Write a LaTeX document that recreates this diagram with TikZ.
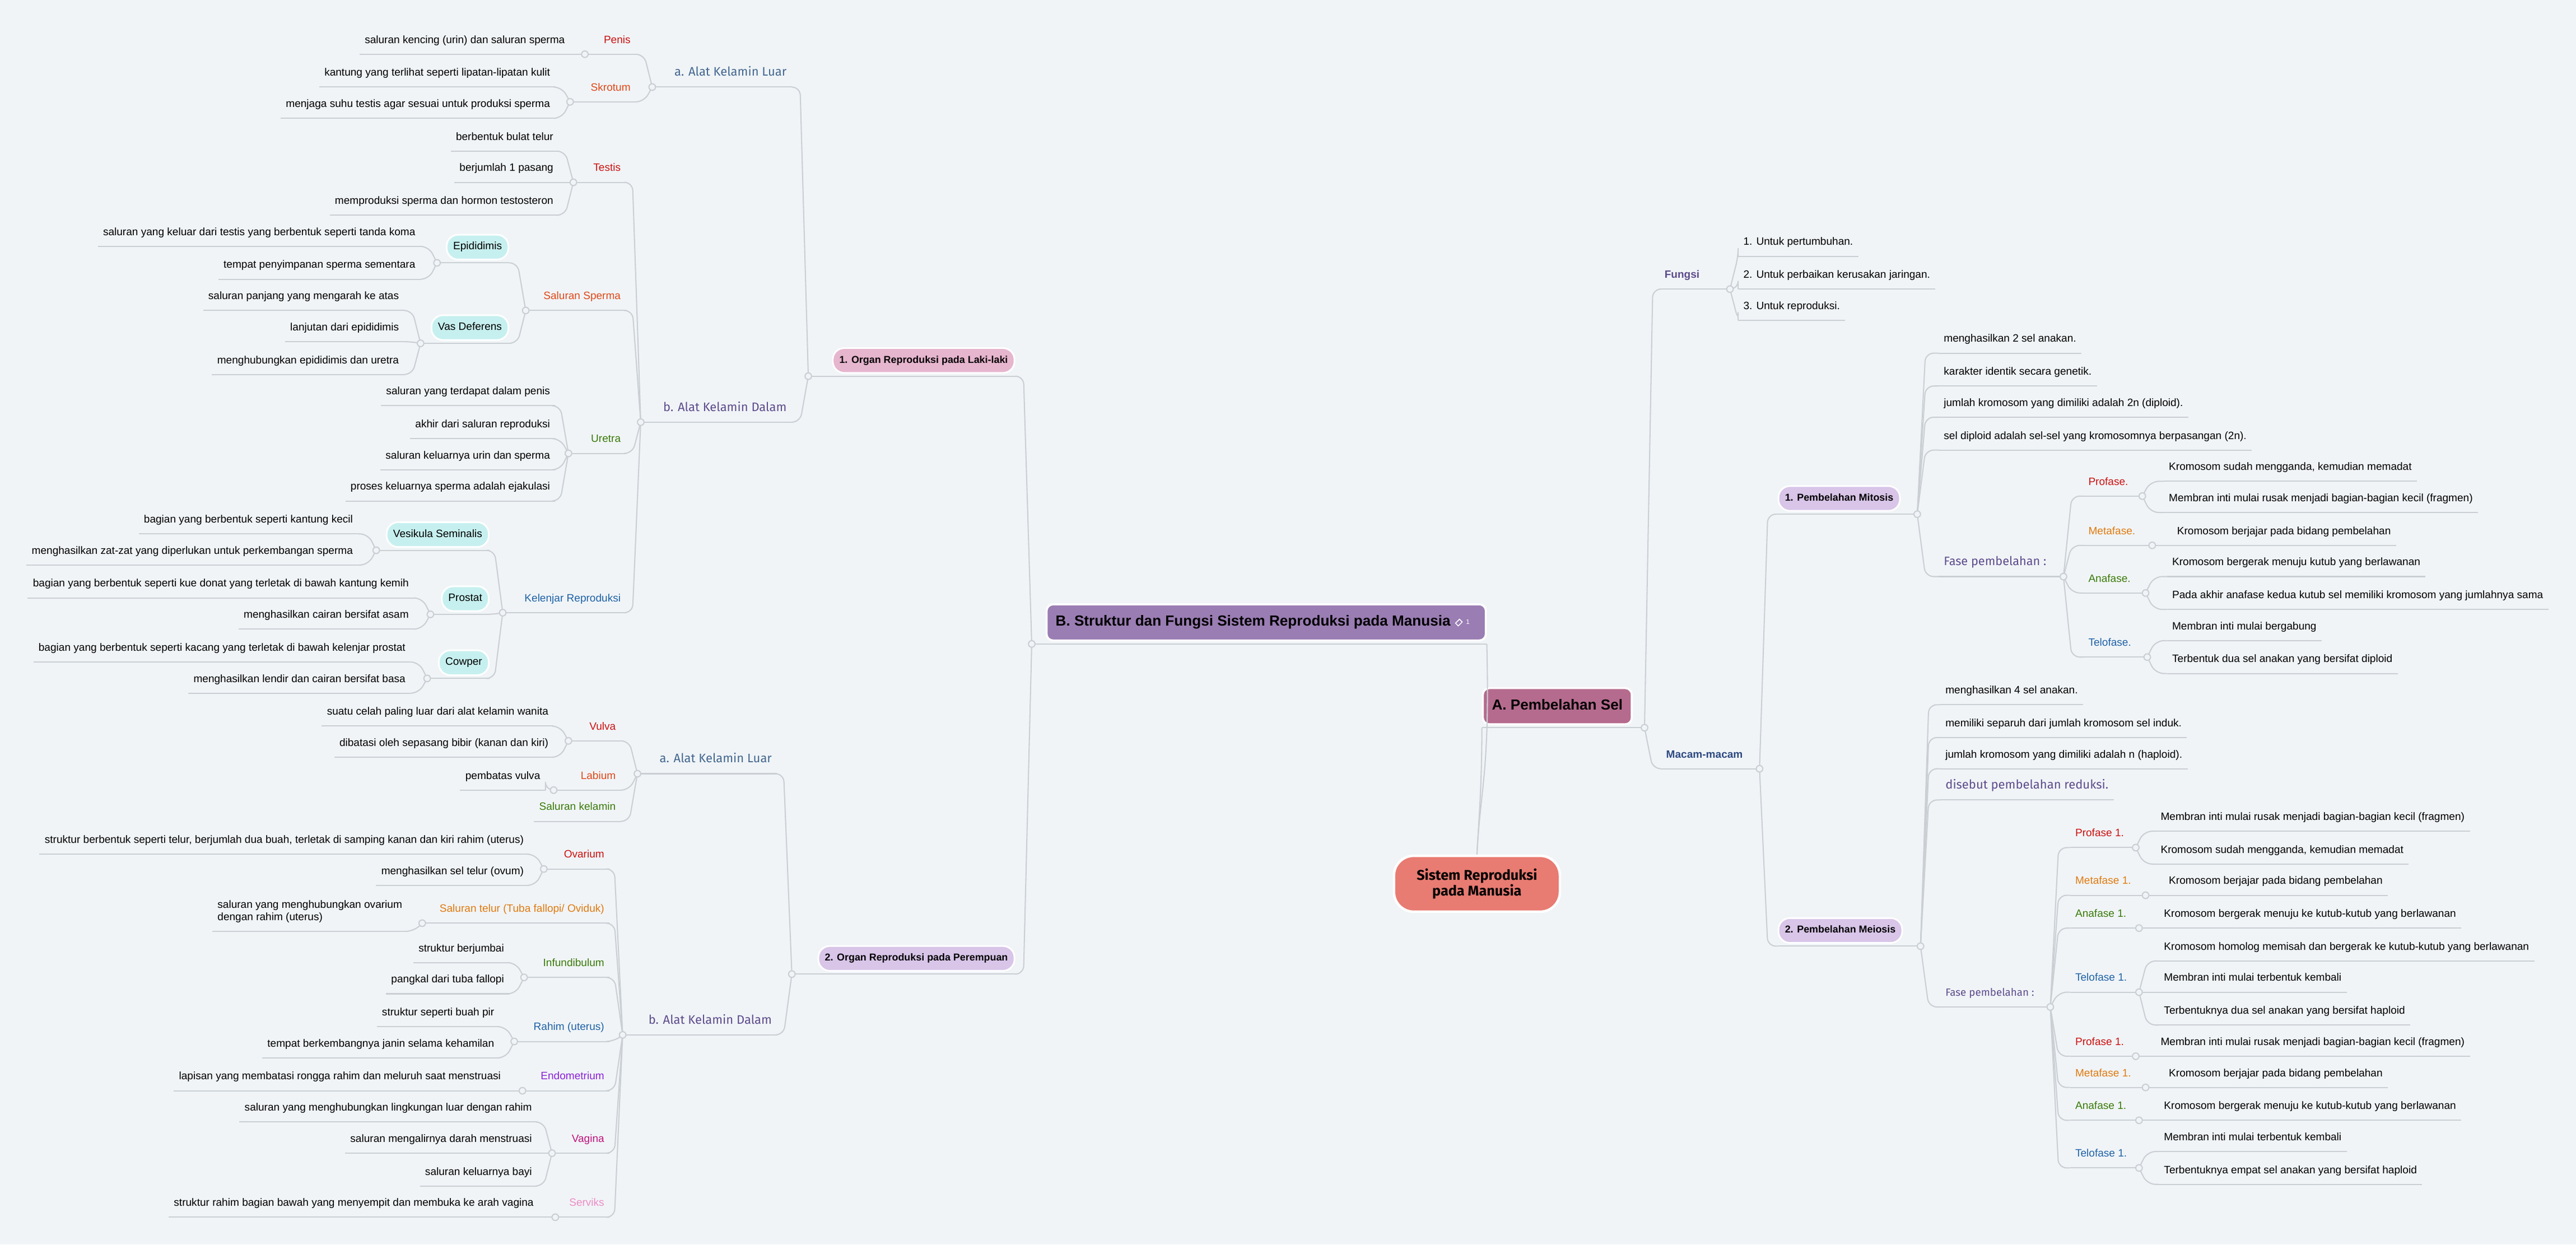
\documentclass[tikz,border=0pt]{standalone}
\usepackage{fontspec}
\setmainfont{Liberation Sans}
\newfontfamily\fira{Fira Sans}
\usetikzlibrary{calc}
\definecolor{bg}{HTML}{F0F4F7}
\definecolor{lnc}{HTML}{CACFD4}
\definecolor{cred}{HTML}{CC1111}
\definecolor{corg}{HTML}{E0481A}
\definecolor{cor2}{HTML}{E07A10}
\definecolor{cgrn}{HTML}{3A7A0A}
\definecolor{cblu}{HTML}{2062A6}
\definecolor{cpur}{HTML}{8A22D8}
\definecolor{cmag}{HTML}{C0137A}
\definecolor{cpnk}{HTML}{EE8CC4}
\definecolor{chead}{HTML}{44678F}
\definecolor{chp}{HTML}{5E4C8C}
\definecolor{cmac}{HTML}{2E4A82}
\definecolor{fB}{HTML}{9A7DB3}
\definecolor{fA}{HTML}{B56B8E}
\definecolor{fR}{HTML}{E87B72}
\definecolor{fpink}{HTML}{E6B5CE}
\definecolor{flav}{HTML}{D8C5E8}
\definecolor{fteal}{HTML}{C6F0EF}
\tikzset{
 ln/.style={draw=lnc,line width=0.7pt},
 base/.style={inner xsep=3pt,inner ysep=5pt,text height=4.6pt,text depth=1.5pt,font=\fontsize{6.5}{7.5}\selectfont},
 leaf/.style={base,text=black},
 cat/.style={base,text=#1},
 head/.style={base,font=\fira\fontsize{7.5}{8}\selectfont,text=#1},
 bub/.style={base,fill=#1,draw=white,line width=1pt,rounded corners=7pt,inner xsep=4pt,inner ysep=4.5pt,yshift=1.5pt},
 bubb/.style={bub=#1,font=\bfseries\fontsize{6.1}{7}\selectfont},
 bigbox/.style={fill=#1,draw=white,line width=1.2pt,rounded corners=4pt,inner xsep=5.5pt,inner ysep=0pt,minimum height=22pt,text height=6.5pt,text depth=2pt,font=\bfseries\fontsize{8.9}{10}\selectfont,yshift=1.5pt},
}
\newcommand\mLL[5]{\node[#4,anchor=south east] (#1) at (#2,#3) {#5}; \coordinate (#1e) at (#1.south east); \draw[ln] (#1.south west) -- (#1.south east);}
\newcommand\mRL[5]{\node[#4,anchor=south west] (#1) at (#2,#3) {#5}; \coordinate (#1e) at (#1.south west); \draw[ln] (#1.south west) -- (#1.south east);}
\newcommand\mLN[6]{\node[#5,anchor=south east] (#1) at (#2,#3) {#6}; \coordinate (#1e) at (#2,#3); \coordinate (#1j) at (#4,#3); \draw[ln] (#1j) -- (#1e);}
\newcommand\mRN[6]{\node[#5,anchor=south west] (#1) at (#2,#3) {#6}; \coordinate (#1e) at (#2,#3); \coordinate (#1j) at (#4,#3); \draw[ln] (#1j) -- (#1e);}
\newcommand\mcL[2]{\path (#1j) ++(-5pt,0) coordinate (tmpc); \draw[ln,rounded corners=5pt] (#1j) -- (tmpc |- #2e) -- (#2e);}
\newcommand\mcR[2]{\path (#1j) ++(5pt,0) coordinate (tmpc); \draw[ln,rounded corners=5pt] (#1j) -- (tmpc |- #2e) -- (#2e);}
\newcommand\mJ[1]{\draw[ln,fill=bg] (#1j) circle (2pt);}
\begin{document}
\begin{tikzpicture}[x=1pt,y=-1pt]
\fill[bg] (0,0) rectangle (1568,757.6);
\useasboundingbox (0,0) rectangle (1568,757.6);
% ===== root and main =====
\node[fill=fR,draw=white,line width=1.5pt,rounded corners=12pt,minimum width=101pt,minimum height=34pt,align=center,font=\fira\bfseries\fontsize{8.6}{9.6}\selectfont] (root) at (899,538) {Sistem Reproduksi\\pada Manusia};
\mLN{B}{905}{392}{628}{bigbox=fB}{B. Struktur dan Fungsi Sistem Reproduksi pada Manusia\kern16pt\null}
\draw[white,line width=0.5pt,rotate around={45:(888,379)}] (886.3,377.8) rectangle (889.7,380.2);
\node[text=white,font=\fontsize{4}{4}\selectfont,inner sep=0pt] (Bic) at (893.5,378.5) {1};
\mRN{A}{902}{443}{1001}{bigbox=fA}{A. Pembelahan Sel}
\draw[ln] (Be) .. controls (907,470) and (901,480) .. (root.north);
\draw[ln] (Ae) .. controls (902,480) and (900,500) .. (root.north);
% ===== Laki-laki =====
\mLN{O1}{618}{229}{492}{bubb=fpink}{1. Organ Reproduksi pada Laki-laki}
\mcL{B}{O1}
\mLN{aL}{482}{53}{397}{head=chead}{a. Alat Kelamin Luar}
\mcL{O1}{aL}
\mLN{Pen}{387}{33}{356}{cat=cred}{Penis}
\mcL{aL}{Pen}
\mLL{l1}{347}{33}{leaf}{saluran kencing (urin) dan saluran sperma}
\mcL{Pen}{l1}
\mLN{Skr}{387}{62}{347}{cat=corg}{Skrotum}
\mcL{aL}{Skr}
\mLL{l2}{338}{53}{leaf}{kantung yang terlihat seperti lipatan-lipatan kulit}
\mLL{l3}{338}{72}{leaf}{menjaga suhu testis agar sesuai untuk produksi sperma}
\mcL{Skr}{l2}\mcL{Skr}{l3}
\mLN{bL}{482}{257}{390}{head=chp}{b. Alat Kelamin Dalam}
\mcL{O1}{bL}
\mLN{Tes}{381}{111}{349}{cat=cred}{Testis}
\mcL{bL}{Tes}
\mLL{l4}{340}{92}{leaf}{berbentuk bulat telur}
\mLL{l5}{340}{111}{leaf}{berjumlah 1 pasang}
\mLL{l6}{340}{131}{leaf}{memproduksi sperma dan hormon testosteron}
\mcL{Tes}{l4}\mcL{Tes}{l5}\mcL{Tes}{l6}
\mLN{Sal}{381}{189}{320}{cat=corg}{Saluran Sperma}
\mcL{bL}{Sal}
\mLN{Epi}{310}{160}{266}{bub=fteal}{Epididimis}
\mcL{Sal}{Epi}
\mLL{l7}{256}{150}{leaf}{saluran yang keluar dari testis yang berbentuk seperti tanda koma}
\mLL{l8}{256}{170}{leaf}{tempat penyimpanan sperma sementara}
\mcL{Epi}{l7}\mcL{Epi}{l8}
\mLN{Vas}{310}{209}{256}{bub=fteal}{Vas Deferens}
\mcL{Sal}{Vas}
\mLL{l9}{246}{189}{leaf}{saluran panjang yang mengarah ke atas}
\mLL{l10}{246}{208}{leaf}{lanjutan dari epididimis}
\mLL{l11}{246}{228}{leaf}{menghubungkan epididimis dan uretra}
\mcL{Vas}{l9}\mcL{Vas}{l10}\mcL{Vas}{l11}
\mLN{Ure}{381}{276}{346}{cat=cgrn}{Uretra}
\mcL{bL}{Ure}
\mLL{l12}{338}{247}{leaf}{saluran yang terdapat dalam penis}
\mLL{l13}{338}{267}{leaf}{akhir dari saluran reproduksi}
\mLL{l14}{338}{286}{leaf}{saluran keluarnya urin dan sperma}
\mLL{l15}{338}{305}{leaf}{proses keluarnya sperma adalah ejakulasi}
\mcL{Ure}{l12}\mcL{Ure}{l13}\mcL{Ure}{l14}\mcL{Ure}{l15}
\mLN{Kel}{381}{373}{306}{cat=cblu}{Kelenjar Reproduksi}
\mcL{bL}{Kel}
\mLN{Ves}{298}{335}{229}{bub=fteal}{Vesikula Seminalis}
\mcL{Kel}{Ves}
\mLL{l16}{218}{325}{leaf}{bagian yang berbentuk seperti kantung kecil}
\mLL{l17}{218}{344}{leaf}{menghasilkan zat-zat yang diperlukan untuk perkembangan sperma}
\mcL{Ves}{l16}\mcL{Ves}{l17}
\mLN{Pro}{298}{374}{262}{bub=fteal}{Prostat}
\mcL{Kel}{Pro}
\mLL{l18}{252}{364}{leaf}{bagian yang berbentuk seperti kue donat yang terletak di bawah kantung kemih}
\mLL{l19}{252}{383}{leaf}{menghasilkan cairan bersifat asam}
\mcL{Pro}{l18}\mcL{Pro}{l19}
\mLN{Cow}{298}{413}{260}{bub=fteal}{Cowper}
\mcL{Kel}{Cow}
\mLL{l20}{250}{403}{leaf}{bagian yang berbentuk seperti kacang yang terletak di bawah kelenjar prostat}
\mLL{l21}{250}{422}{leaf}{menghasilkan lendir dan cairan bersifat basa}
\mcL{Cow}{l20}\mcL{Cow}{l21}
% ===== Perempuan =====
\mLN{O2}{618}{593}{482}{bubb=flav}{2. Organ Reproduksi pada Perempuan}
\mcL{B}{O2}
\mLN{aP}{473}{471}{388}{head=chead}{a. Alat Kelamin Luar}
\mcL{O2}{aP}
\mLN{Vul}{378}{451}{346}{cat=cred}{Vulva}
\mcL{aP}{Vul}
\mLL{p1}{337}{442}{leaf}{suatu celah paling luar dari alat kelamin wanita}
\mLL{p2}{337}{461}{leaf}{dibatasi oleh sepasang bibir (kanan dan kiri)}
\mcL{Vul}{p1}\mcL{Vul}{p2}
\mLN{Lab}{378}{481}{337}{cat=corg}{Labium}
\mcL{aP}{Lab}
\mLL{p3}{332}{481}{leaf}{pembatas vulva}
\mcL{Lab}{p3}
\mLL{SKe}{378}{500}{cat=cgrn}{Saluran kelamin}
\mcL{aP}{SKe}
\mLN{bP}{473}{630}{379}{head=chp}{b. Alat Kelamin Dalam}
\mcL{O2}{bP}
\mLN{Ova}{371}{529}{331}{cat=cred}{Ovarium}
\mcL{bP}{Ova}
\mLL{p4}{322}{520}{leaf}{struktur berbentuk seperti telur, berjumlah dua buah, terletak di samping kanan dan kiri rahim (uterus)}
\mLL{p5}{322}{539}{leaf}{menghasilkan sel telur (ovum)}
\mcL{Ova}{p4}\mcL{Ova}{p5}
\mLN{Tub}{371}{562}{257}{cat=cor2}{Saluran telur (Tuba fallopi/ Oviduk)}
\mcL{bP}{Tub}
\mLL{p6}{248}{567}{leaf,align=left}{saluran yang menghubungkan ovarium\\dengan rahim (uterus)}
\mcL{Tub}{p6}
\mLN{Inf}{371}{595}{319}{cat=cgrn}{Infundibulum}
\mcL{bP}{Inf}
\mLL{p7}{310}{586}{leaf}{struktur berjumbai}
\mLL{p8}{310}{605}{leaf}{pangkal dari tuba fallopi}
\mcL{Inf}{p7}\mcL{Inf}{p8}
\mLN{Rah}{371}{634}{313}{cat=cblu}{Rahim (uterus)}
\mcL{bP}{Rah}
\mLL{p9}{304}{625}{leaf}{struktur seperti buah pir}
\mLL{p10}{304}{644}{leaf}{tempat berkembangnya janin selama kehamilan}
\mcL{Rah}{p9}\mcL{Rah}{p10}
\mLN{End}{371}{664}{318}{cat=cpur}{Endometrium}
\mcL{bP}{End}
\mLL{p11}{308}{664}{leaf}{lapisan yang membatasi rongga rahim dan meluruh saat menstruasi}
\mcL{End}{p11}
\mLN{Vag}{371}{702}{336}{cat=cmag}{Vagina}
\mcL{bP}{Vag}
\mLL{p12}{327}{683}{leaf}{saluran yang menghubungkan lingkungan luar dengan rahim}
\mLL{p13}{327}{702}{leaf}{saluran mengalirnya darah menstruasi}
\mLL{p14}{327}{722}{leaf}{saluran keluarnya bayi}
\mcL{Vag}{p12}\mcL{Vag}{p13}\mcL{Vag}{p14}
\mLN{Ser}{371}{741}{338}{cat=cpnk}{Serviks}
\mcL{bP}{Ser}
\mLL{p15}{328}{741}{leaf}{struktur rahim bagian bawah yang menyempit dan membuka ke arah vagina}
\mcL{Ser}{p15}
% ===== Right side =====
\mRN{Fun}{1010}{176}{1053}{cat=chp,font=\bfseries\fontsize{6.5}{7.5}\selectfont}{Fungsi}
\mcR{A}{Fun}
\mRL{f1}{1058}{156}{leaf}{1. Untuk pertumbuhan.}
\mRL{f2}{1058}{176}{leaf}{2. Untuk perbaikan kerusakan jaringan.}
\mRL{f3}{1058}{195}{leaf}{3. Untuk reproduksi.}
\mcR{Fun}{f1}\mcR{Fun}{f2}\mcR{Fun}{f3}
\mRN{Mac}{1011}{468}{1071}{cat=cmac,font=\bfseries\fontsize{6.5}{7.5}\selectfont}{Macam-macam}
\mcR{A}{Mac}
\mRN{Mit}{1082}{313}{1167}{bubb=flav}{1. Pembelahan Mitosis}
\mcR{Mac}{Mit}
\mRL{m1}{1180}{215}{leaf}{menghasilkan 2 sel anakan.}
\mRL{m2}{1180}{235}{leaf}{karakter identik secara genetik.}
\mRL{m3}{1180}{254}{leaf}{jumlah kromosom yang dimiliki adalah 2n (diploid).}
\mRL{m4}{1180}{274}{leaf}{sel diploid adalah sel-sel yang kromosomnya berpasangan (2n).}
\mcR{Mit}{m1}\mcR{Mit}{m2}\mcR{Mit}{m3}\mcR{Mit}{m4}
\mRN{FM}{1180}{351}{1256}{head=chp,font=\fira\fontsize{7.4}{8}\selectfont}{Fase pembelahan :}
\mcR{Mit}{FM}
\mRN{Prf}{1268}{302}{1304}{cat=cred}{Profase.}
\mRN{Mtf}{1268}{332}{1310}{cat=cor2}{Metafase.}
\mRN{Anf}{1268}{361}{1306}{cat=cgrn}{Anafase.}
\mRN{Tlf}{1268}{400}{1307}{cat=cblu}{Telofase.}
\mcR{FM}{Prf}\mcR{FM}{Mtf}\mcR{FM}{Anf}\mcR{FM}{Tlf}
\mRL{q1}{1317}{293}{leaf}{Kromosom sudah mengganda, kemudian memadat}
\mRL{q2}{1317}{312}{leaf}{Membran inti mulai rusak menjadi bagian-bagian kecil (fragmen)}
\mcR{Prf}{q1}\mcR{Prf}{q2}
\mRL{q3}{1322}{332}{leaf}{Kromosom berjajar pada bidang pembelahan}
\mcR{Mtf}{q3}
\mRL{q4}{1319}{351}{leaf}{Kromosom bergerak menuju kutub yang berlawanan}
\mRL{q5}{1319}{371}{leaf}{Pada akhir anafase kedua kutub sel memiliki kromosom yang jumlahnya sama}
\mcR{Anf}{q4}\mcR{Anf}{q5}
\mRL{q6}{1319}{390}{leaf}{Membran inti mulai bergabung}
\mRL{q7}{1319}{410}{leaf}{Terbentuk dua sel anakan yang bersifat diploid}
\mcR{Tlf}{q6}\mcR{Tlf}{q7}
\mRN{Mei}{1082}{576}{1169}{bubb=flav}{2. Pembelahan Meiosis}
\mcR{Mac}{Mei}
\mRL{e1}{1181}{429}{leaf}{menghasilkan 4 sel anakan.}
\mRL{e2}{1181}{449}{leaf}{memiliki separuh dari jumlah kromosom sel induk.}
\mRL{e3}{1181}{468}{leaf}{jumlah kromosom yang dimiliki adalah n (haploid).}
\mRL{e4}{1181}{487}{head=chp}{disebut pembelahan reduksi.}
\mcR{Mei}{e1}\mcR{Mei}{e2}\mcR{Mei}{e3}\mcR{Mei}{e4}
\mRN{FE}{1181}{613}{1248}{head=chp,font=\fira\fontsize{6.4}{7}\selectfont}{Fase pembelahan :}
\mcR{Mei}{FE}
\mRN{P1}{1260}{516}{1300}{cat=cred}{Profase 1.}
\mRN{M1}{1260}{545}{1306}{cat=cor2}{Metafase 1.}
\mRN{A1}{1260}{565}{1302}{cat=cgrn}{Anafase 1.}
\mRN{T1}{1260}{604}{1302}{cat=cblu}{Telofase 1.}
\mRN{P2}{1260}{643}{1300}{cat=cred}{Profase 1.}
\mRN{M2}{1260}{662}{1306}{cat=cor2}{Metafase 1.}
\mRN{A2}{1260}{682}{1302}{cat=cgrn}{Anafase 1.}
\mRN{T2}{1260}{711}{1302}{cat=cblu}{Telofase 1.}
\mcR{FE}{P1}\mcR{FE}{M1}\mcR{FE}{A1}\mcR{FE}{T1}\mcR{FE}{P2}\mcR{FE}{M2}\mcR{FE}{A2}\mcR{FE}{T2}
\mRL{r1}{1312}{506}{leaf}{Membran inti mulai rusak menjadi bagian-bagian kecil (fragmen)}
\mRL{r2}{1312}{526}{leaf}{Kromosom sudah mengganda, kemudian memadat}
\mcR{P1}{r1}\mcR{P1}{r2}
\mRL{r3}{1317}{545}{leaf}{Kromosom berjajar pada bidang pembelahan}
\mcR{M1}{r3}
\mRL{r4}{1314}{565}{leaf}{Kromosom bergerak menuju ke kutub-kutub yang berlawanan}
\mcR{A1}{r4}
\mRL{r5}{1314}{585}{leaf}{Kromosom homolog memisah dan bergerak ke kutub-kutub yang berlawanan}
\mRL{r6}{1314}{604}{leaf}{Membran inti mulai terbentuk kembali}
\mRL{r7}{1314}{624}{leaf}{Terbentuknya dua sel anakan yang bersifat haploid}
\mcR{T1}{r5}\mcR{T1}{r6}\mcR{T1}{r7}
\mRL{r8}{1312}{643}{leaf}{Membran inti mulai rusak menjadi bagian-bagian kecil (fragmen)}
\mcR{P2}{r8}
\mRL{r9}{1317}{662}{leaf}{Kromosom berjajar pada bidang pembelahan}
\mcR{M2}{r9}
\mRL{r10}{1314}{682}{leaf}{Kromosom bergerak menuju ke kutub-kutub yang berlawanan}
\mcR{A2}{r10}
\mRL{r11}{1314}{701}{leaf}{Membran inti mulai terbentuk kembali}
\mRL{r12}{1314}{721}{leaf}{Terbentuknya empat sel anakan yang bersifat haploid}
\mcR{T2}{r11}\mcR{T2}{r12}
% ===== junction circles =====
\foreach \n in {B,A,O1,aL,Pen,Skr,bL,Tes,Sal,Epi,Vas,Ure,Kel,Ves,Pro,Cow,O2,aP,Vul,Lab,bP,Ova,Tub,Inf,Rah,End,Vag,Ser,Fun,Mac,Mit,FM,Prf,Mtf,Anf,Tlf,Mei,FE,P1,M1,A1,T1,P2,M2,A2,T2}{\mJ{\n}}
\end{tikzpicture}
\end{document}
